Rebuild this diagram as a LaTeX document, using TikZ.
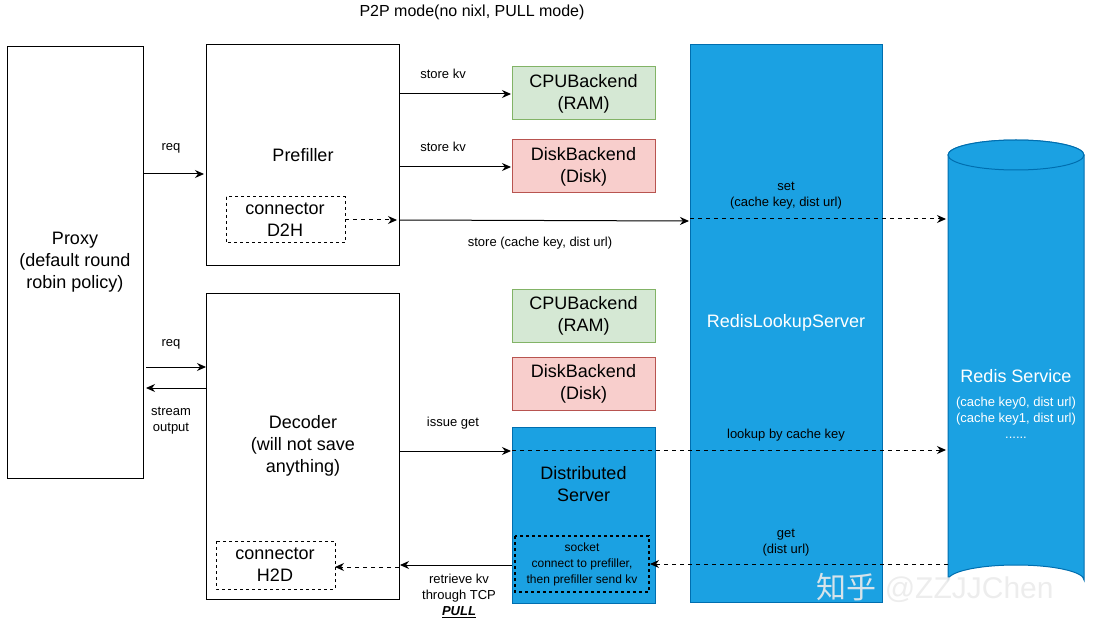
\documentclass[tikz,border=0pt]{standalone}
\usepackage{fontspec}
\setmainfont{Liberation Sans}
\newfontfamily\cjk{Noto Sans CJK SC}
\usetikzlibrary{arrows.meta}
\definecolor{dblue}{HTML}{1BA1E2}
\definecolor{dblueb}{HTML}{006EAF}
\definecolor{dgreen}{HTML}{D5E8D4}
\definecolor{dgreenb}{HTML}{82B366}
\definecolor{dred}{HTML}{F8CECC}
\definecolor{dredb}{HTML}{B85450}
\tikzset{
  big/.style = {font=\fontsize{18}{22}\selectfont, align=center},
  lbl/.style = {font=\fontsize{13}{16}\selectfont, align=center},
  box/.style = {draw=black, line width=1pt, fill=white},
  dbox/.style = {draw=black, line width=1pt, dashed},
  green/.style = {draw=dgreenb, fill=dgreen, line width=1pt},
  red/.style = {draw=dredb, fill=dred, line width=1pt},
  blue/.style = {draw=dblueb, fill=dblue, line width=1pt},
  arr/.style = {-{Stealth[length=9pt,width=8pt]}, line width=1pt},
  darr/.style = {arr, dashed, dash pattern=on 4pt off 4pt},
}
\begin{document}
\begin{tikzpicture}[x=1pt, y=-1pt]
\useasboundingbox (0,0) rectangle (1094,636);

\node[lbl, font=\fontsize{16}{19}\selectfont] (title) at (472,12) {P2P mode(no nixl, PULL mode)};

% boxes
\draw[box] (7,47) rectangle (143,478);
\node[big] (proxy) at (75,262) {Proxy\\(default round\\robin policy)};
\draw[box] (206,45) rectangle (399,265);
\node[big] (pre) at (303,155) {Prefiller};
\draw[dbox] (226,197) rectangle (345,243);
\node[big] (d2h) at (285,220) {connector\\D2H};
\draw[box] (206,293) rectangle (399,599);
\node[big] (dec) at (303,446) {Decoder\\(will not save\\anything)};
\draw[dbox] (216,541) rectangle (335,589);
\node[big] (h2d) at (275,565) {connector\\H2D};

\draw[green] (512,67) rectangle (655,120);
\node[big] (cpu1) at (583.5,93.5) {CPUBackend\\(RAM)};
\draw[red] (512,140) rectangle (655,193);
\node[big] (disk1) at (583.5,166.5) {DiskBackend\\(Disk)};
\draw[green] (512,289) rectangle (655,342);
\node[big] (cpu2) at (583.5,315.5) {CPUBackend\\(RAM)};
\draw[red] (512,357) rectangle (655,410);
\node[big] (disk2) at (583.5,383.5) {DiskBackend\\(Disk)};

\draw[blue] (512,427) rectangle (655,603);
\node[big] (dist) at (583.5,484) {Distributed\\Server};
\draw[dbox, line width=1.2pt] (515,536) rectangle (649,592);
\node[lbl, font=\fontsize{12}{16}\selectfont] (sock) at (582,564) {socket\\connect to prefiller,\\then prefiller send kv};

\draw[blue] (690,45) rectangle (882,602);
\node[big, white] (lookup) at (786,323) {RedisLookupServer};

% redis cylinder
\draw[blue] (948,155) arc[start angle=180, end angle=360, x radius=68, y radius=15]
  -- (1084,580) arc[start angle=0, end angle=-180, x radius=68, y radius=15] -- cycle;
\draw[blue] (1016,155) ellipse[x radius=68, y radius=15];
\node[big, white] (redis) at (1016,376) {Redis Service};
\node[lbl, white] (keys) at (1016,418) {(cache key0, dist url)\\(cache key1, dist url)\\......};

% coordinates
\coordinate (pxR1) at (143,174); \coordinate (preL) at (204,174);
\coordinate (pxR2) at (146,367); \coordinate (decL) at (206,367);
\coordinate (decL2) at (206,388); \coordinate (pxR3) at (146,388);
\coordinate (preR1) at (400,94); \coordinate (cpuL) at (511,94);
\coordinate (preR2) at (400,167); \coordinate (diskL) at (511,167);
\coordinate (d2hR) at (345,220); \coordinate (preR3) at (397,220);
\coordinate (preR4) at (399,220); \coordinate (lkL) at (689,221);
\coordinate (lkL2) at (690,219); \coordinate (rdL) at (946,219);
\coordinate (decR) at (400,451); \coordinate (distL) at (511,451);
\coordinate (distL2) at (512,450); \coordinate (rdL2) at (946,450);
\coordinate (rdL3) at (948,564); \coordinate (sockR) at (650,564);
\coordinate (distL3) at (512,565); \coordinate (decR2) at (400,565);
\coordinate (decR3) at (399,567); \coordinate (h2dR) at (335,567);

\draw[arr] (pxR1) -- (preL);
\node[lbl] (l1) at (171,148) {req};
\draw[arr] (pxR2) -- (decL);
\node[lbl] (l2) at (171,344) {req};
\draw[arr] (decL2) -- (pxR3);
\node[lbl] (l3) at (171,421) {stream\\output};
\draw[arr] (preR1) -- (cpuL);
\node[lbl] (l4) at (443,74) {store kv};
\draw[arr] (preR2) -- (diskL);
\node[lbl] (l5) at (443,147) {store kv};
\draw[darr] (d2hR) -- (preR3);
\draw[arr] (preR4) -- (lkL);
\node[lbl] (l6) at (540,243) {store (cache key, dist url)};
\draw[darr] (lkL2) -- (rdL);
\node[lbl] (l7) at (786,196) {set\\(cache key, dist url)};
\draw[arr] (decR) -- (distL);
\node[lbl] (l8) at (453,423) {issue get};
\draw[darr] (distL2) -- (rdL2);
\node[lbl] (l9) at (786,435) {lookup by cache key};
\draw[darr] (rdL3) -- (sockR);
\node[lbl] (l10) at (786,543) {get\\(dist url)};
\draw[arr] (distL3) -- (decR2);
\draw[darr] (decR3) -- (h2dR);
\node[lbl] (l11) at (459,596) {retrieve kv\\through TCP\\\underline{\textbf{\textit{PULL}}}};

\node[font=\fontsize{30}{34}\selectfont, text=white!92!black, opacity=0.9] (wm) at (935,588) {{\cjk 知乎} @ZZJJChen};
\end{tikzpicture}
\end{document}
